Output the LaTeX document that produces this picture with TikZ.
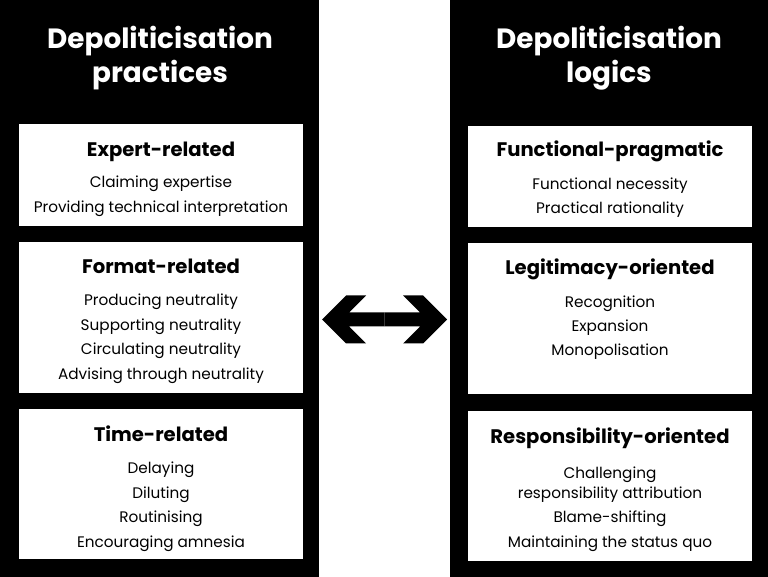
\documentclass[tikz,border=0pt]{standalone}
\usepackage{fontspec}
\setmainfont{Poppins}

\tikzset{every picture/.style={line width=0.75pt}}
\tikzset{
  panel/.style={fill=black},
  card/.style={fill=white},
  ttl/.style={anchor=base, inner sep=0.75pt, text=white, font=\fontsize{20.9}{24}\selectfont\bfseries},
  hd/.style={anchor=base, inner sep=0.75pt, font=\fontsize{14.7}{17}\selectfont\bfseries},
  itm/.style={anchor=base, inner sep=0.75pt, font=\fontsize{11.45}{14}\selectfont},
}

\begin{document}
\begin{tikzpicture}[x=0.75pt,y=0.75pt,yscale=-1,xscale=1]
%set diagram left start at 0, and has height of 577
\path [fill=white] (0,0) rectangle (768,577);

%Shape: Rectangle [id:practices panel]
\path [panel] (0,0) rectangle (319,577);
%Shape: Rectangle [id:logics panel]
\path [panel] (450,0) rectangle (768,577);

%Shape: Rectangle [id:expert]
\path [card] (19,124) rectangle (303,226);
%Shape: Rectangle [id:format]
\path [card] (19,242) rectangle (303,393);
%Shape: Rectangle [id:time]
\path [card] (19,409) rectangle (303,559);
%Shape: Rectangle [id:functional]
\path [card] (468,126) rectangle (752,227);
%Shape: Rectangle [id:legitimacy]
\path [card] (468,243) rectangle (752,394);
%Shape: Rectangle [id:responsibility]
\path [card] (468,411) rectangle (752,561);

%Shape: Double Arrow [id:left half]
\fill (322,319.5) -- (346,295.5) -- (366,295.5) -- (349,312.5) -- (384.5,312.5) -- (384.5,326.5) -- (349,326.5) -- (366,343.5) -- (346,343.5) -- cycle ;
%Shape: Double Arrow [id:right half]
\fill (447,319.5) -- (423,295.5) -- (403,295.5) -- (420,312.5) -- (384.5,312.5) -- (384.5,326.5) -- (420,326.5) -- (403,343.5) -- (423,343.5) -- cycle ;

% Text Node
\draw (160,49) node (ttlL1) [ttl] {Depoliticisation};
% Text Node
\draw (160,83) node (ttlL2) [ttl] {practices};
% Text Node
\draw (609,49) node (ttlR1) [ttl] {Depoliticisation};
% Text Node
\draw (609,83) node (ttlR2) [ttl] {logics};

% Text Node
\draw (161,157) node (hdExp) [hd] {Expert-related};
\draw (161,188) node (exp1) [itm] {Claiming expertise};
\draw (161,212.5) node (exp2) [itm] {Providing technical interpretation};

% Text Node
\draw (161,274) node (hdFor) [hd] {Format-related};
\draw (161,306) node (for1) [itm] {Producing neutrality};
\draw (161,330.5) node (for2) [itm] {Supporting neutrality};
\draw (161,355) node (for3) [itm] {Circulating neutrality};
\draw (161,379.5) node (for4) [itm] {Advising through neutrality};

% Text Node
\draw (161,441.5) node (hdTim) [hd] {Time-related};
\draw (161,474) node (tim1) [itm] {Delaying};
\draw (161,498.5) node (tim2) [itm] {Diluting};
\draw (161,522.5) node (tim3) [itm] {Routinising};
\draw (161,547) node (tim4) [itm] {Encouraging amnesia};

% Text Node
\draw (610,157) node (hdFun) [hd] {Functional-pragmatic};
\draw (610,190) node (fun1) [itm] {Functional necessity};
\draw (610,213.5) node (fun2) [itm] {Practical rationality};

% Text Node
\draw (610,275) node (hdLeg) [hd] {Legitimacy-oriented};
\draw (610,307.5) node (leg1) [itm] {Recognition};
\draw (610,331.5) node (leg2) [itm] {Expansion};
\draw (610,356) node (leg3) [itm] {Monopolisation};

% Text Node
\draw (610,443) node (hdRes) [hd] {Responsibility-oriented};
\draw (610,478.5) node (res1) [itm] {Challenging};
\draw (610,498.5) node (res2) [itm] {responsibility attribution};
\draw (610,522.5) node (res3) [itm] {Blame-shifting};
\draw (610,547) node (res4) [itm] {Maintaining the status quo};

\end{tikzpicture}
\end{document}
